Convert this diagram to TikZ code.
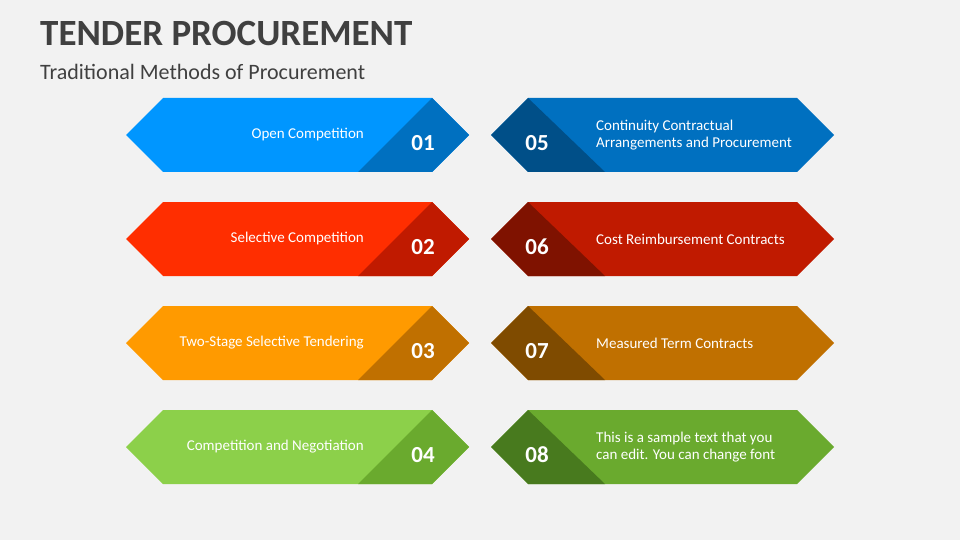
\documentclass[tikz,border=0pt]{standalone}
\usepackage{fontspec}
\setmainfont{Carlito}
\begin{document}
\begin{tikzpicture}[x=1pt,y=-1pt,
  lbl/.style={text=white,font=\fontsize{15}{17}\selectfont,inner sep=0pt},
  num/.style={text=white,font=\bfseries\fontsize{23}{25}\selectfont,inner sep=0pt}]
\definecolor{bg}{HTML}{F2F2F2}
\definecolor{ttl}{HTML}{404040}
\definecolor{aL}{HTML}{0096FF}\definecolor{aM}{HTML}{0070C0}\definecolor{aD}{HTML}{004F88}
\definecolor{bL}{HTML}{FF2E00}\definecolor{bM}{HTML}{C01A00}\definecolor{bD}{HTML}{7F1200}
\definecolor{cL}{HTML}{FF9A00}\definecolor{cM}{HTML}{C07000}\definecolor{cD}{HTML}{7F4B00}
\definecolor{dL}{HTML}{8CD04A}\definecolor{dM}{HTML}{6AAA2E}\definecolor{dD}{HTML}{487A1E}
\fill[bg] (0,0) rectangle (960,540);
\node[anchor=base west,text=ttl,font=\bfseries\fontsize{37}{40}\selectfont,inner sep=0pt] (t) at (40,46) {TENDER PROCUREMENT};
\node[anchor=base west,text=ttl,font=\fontsize{22}{24}\selectfont,inner sep=0pt] (st) at (40,80) {Traditional Methods of Procurement};
\foreach \y/\c/\na/\nb/\ta/\tb in {135/a/01/05/{Open Competition}/{Continuity Contractual\\Arrangements and Procurement},
  239/b/02/06/{Selective Competition}/{Cost Reimbursement Contracts},
  343/c/03/07/{Two-Stage Selective Tendering}/{Measured Term Contracts},
  447/d/04/08/{Competition and Negotiation}/{This is a sample text that you\\can edit. You can change font}}{
  % left arrow
  \fill[\c L] (126,\y) -- (163,\y-37) -- (432,\y-37) -- (469,\y) -- (432,\y+37) -- (163,\y+37) -- cycle;
  \fill[\c M] (358,\y+37) -- (432,\y-37) -- (469,\y) -- (432,\y+37) -- cycle;
  \node[lbl,anchor=east] (l\na) at (364,\y) {\ta};
  \node[num] (n\na) at (423,\y+8) {\na};
  % right arrow
  \fill[\c M] (491,\y) -- (528,\y-37) -- (797,\y-37) -- (834,\y) -- (797,\y+37) -- (528,\y+37) -- cycle;
  \fill[\c D] (491,\y) -- (528,\y-37) -- (605,\y+37) -- (528,\y+37) -- cycle;
  \node[lbl,anchor=west,align=left] (l\nb) at (596,\y) {\tb};
  \node[num] (n\nb) at (537,\y+8) {\nb};
}
\end{tikzpicture}
\end{document}
